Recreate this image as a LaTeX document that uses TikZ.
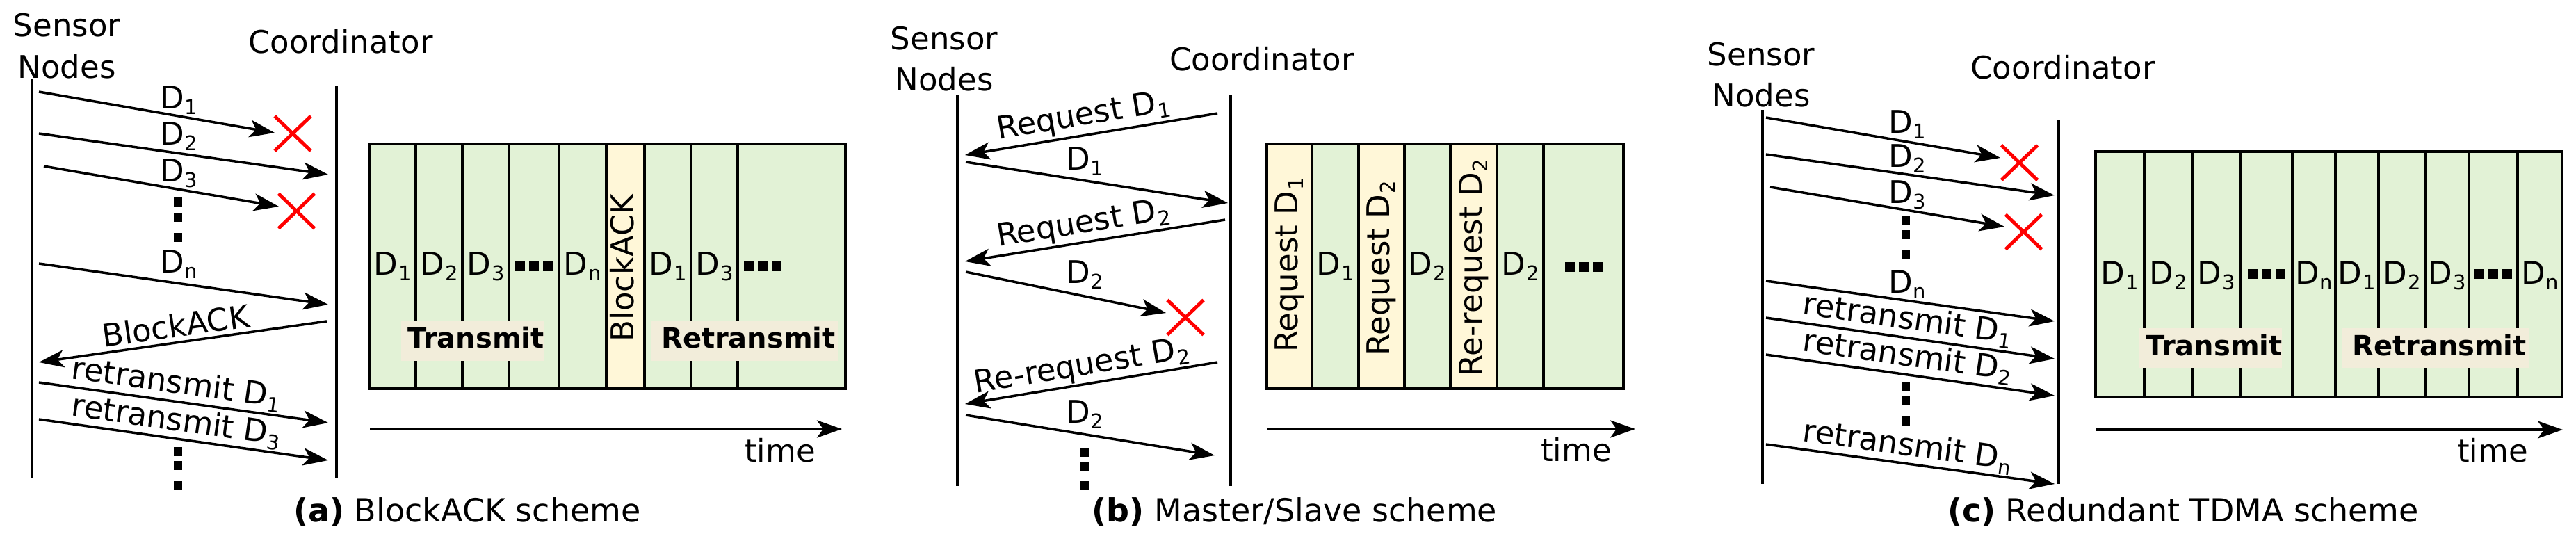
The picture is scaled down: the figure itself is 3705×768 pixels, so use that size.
\documentclass[tikz,border=0pt]{standalone}
\usepackage{fontspec}
\setmainfont{DejaVu Sans}
\usetikzlibrary{arrows.meta}
\definecolor{slotgreen}{RGB}{226,242,214}
\definecolor{slotyellow}{RGB}{255,247,216}
\definecolor{tagbg}{RGB}{242,237,218}
\newcommand{\bigf}{\fontsize{45}{54}\selectfont}
\newcommand{\capf}{\fontsize{46}{55}\selectfont}
\newcommand{\tagf}{\fontsize{40}{48}\selectfont\bfseries}
\newcommand{\sbs}[1]{\kern1pt\raisebox{-8pt}{\fontsize{29}{29}\selectfont #1}}
\newcommand{\vsq}[2]{\fill (#1-6,#2-6.5) rectangle (#1+6,#2+6.5);}
\newcommand{\hdots}[2]{\fill (#1-27,#2-7) rectangle (#1-13,#2+7); \fill (#1-7,#2-7) rectangle (#1+7,#2+7); \fill (#1+13,#2-7) rectangle (#1+27,#2+7);}
\newcommand{\redx}[2]{\draw[crossline] (#1-26,#2-25) -- (#1+26,#2+25); \draw[crossline] (#1-26,#2+25) -- (#1+26,#2-25);}
\begin{document}
\begin{tikzpicture}[x=1pt,y=-1pt,
  msg/.style={line width=3.5pt, -{Stealth[length=36pt,width=25pt,inset=9pt]}},
  life/.style={line width=3.5pt},
  txt/.style={inner sep=0pt, font=\bigf},
  dlbl/.style={inner sep=0pt, font=\bigf, anchor=base west},
  rlbl/.style={inner sep=0pt, font=\bigf, anchor=base},
  slotline/.style={draw=black, line width=3.5pt},
  boxline/.style={draw=black, line width=4pt},
  crossline/.style={draw=red, line width=5pt},
  tagtxt/.style={inner sep=0pt, font=\tagf, anchor=base west},
  captxt/.style={inner sep=0pt, font=\capf, anchor=base}]
\useasboundingbox (0,0) rectangle (3705,768);

%================ Panel (a) =================
\node[txt,anchor=base] (aS1) at (96,53) {Sensor};
\node[txt,anchor=base] (aS2) at (96,112) {Nodes};
\node[txt,anchor=base] (aCo) at (490,77) {Coordinator};
\coordinate (aL0) at (45.6,114); \coordinate (aL1) at (45.6,688);
\coordinate (aC0) at (484,124); \coordinate (aC1) at (484,688);
\draw[life] (aL0) -- (aL1);
\draw[life] (aC0) -- (aC1);

\coordinate (a1s) at (56,132);  \coordinate (a1e) at (395,191);
\coordinate (a2s) at (56,192);  \coordinate (a2e) at (472,251);
\coordinate (a3s) at (63,239);  \coordinate (a3e) at (401,297);
\coordinate (a4s) at (56,379);  \coordinate (a4e) at (472,438);
\coordinate (a5s) at (470,462); \coordinate (a5e) at (56,521);
\coordinate (a6s) at (56,550);  \coordinate (a6e) at (472,608);
\coordinate (a7s) at (56,603);  \coordinate (a7e) at (472,662);
\draw[msg] (a1s) -- (a1e);
\draw[msg] (a2s) -- (a2e);
\draw[msg] (a3s) -- (a3e);
\draw[msg] (a4s) -- (a4e);
\draw[msg] (a5s) -- (a5e);
\draw[msg] (a6s) -- (a6e);
\draw[msg] (a7s) -- (a7e);
\node[dlbl] (aD1) at (230,156) {D\sbs{1}};
\node[dlbl] (aD2) at (230,208) {D\sbs{2}};
\node[dlbl] (aD3) at (230,261) {D\sbs{3}};
\node[dlbl] (aDn) at (230,392) {D\sbs{n}};
\node[rlbl,rotate=8.1] (aBA) at (255,485) {BlockACK};
\node[rlbl,rotate=-7.9] (aR1) at (252,565) {retransmit D\sbs{1}};
\node[rlbl,rotate=-8.0] (aR3) at (252,619) {retransmit D\sbs{3}};
\redx{421}{192}
\redx{426.5}{303.5}
\vsq{256}{290.5}\vsq{256}{312.5}\vsq{256}{341.5}
\vsq{256}{649.5}\vsq{256}{669}\vsq{256}{698.5}

% time slots (a)
\foreach \xa/\xb/\c in {532/598/slotgreen,598/665/slotgreen,665/732/slotgreen,732/804/slotgreen,804/872/slotgreen,872/927/slotyellow,927/994/slotgreen,994/1061/slotgreen,1061/1216/slotgreen}
  \filldraw[slotline,fill=\c] (\xa,207) rectangle (\xb,559);
\draw[boxline] (532,207) rectangle (1216,559);
\fill[tagbg] (577,461) rectangle (782,519);
\fill[tagbg] (936,461) rectangle (1205,519);
\node[tagtxt] (aTr) at (586,500) {Transmit};
\node[tagtxt] (aRe) at (951,500) {Retransmit};
\node[rlbl] (ab1) at (565,395) {D\sbs{1}};
\node[rlbl] (ab2) at (631.5,395) {D\sbs{2}};
\node[rlbl] (ab3) at (698.5,395) {D\sbs{3}};
\hdots{768}{383}
\node[rlbl] (abn) at (838,395) {D\sbs{n}};
\node[inner sep=0pt,font=\bigf,rotate=90,anchor=base] (abA) at (911,385) {BlockACK};
\node[rlbl] (ab4) at (960.5,395) {D\sbs{1}};
\node[rlbl] (ab5) at (1027.5,395) {D\sbs{3}};
\hdots{1097}{383}
\coordinate (at0) at (532,617); \coordinate (at1) at (1211,617);
\draw[msg] (at0) -- (at1);
\node[dlbl] (aTi) at (1071,664) {time};
\node[captxt] (capA) at (672,750) {\textbf{(a)} BlockACK scheme};

%================ Panel (b) =================
\node[txt,anchor=base] (bS1) at (1358,71) {Sensor};
\node[txt,anchor=base] (bS2) at (1358,130) {Nodes};
\node[txt,anchor=base] (bCo) at (1815,101) {Coordinator};
\coordinate (bL0) at (1377,136); \coordinate (bL1) at (1377,699);
\coordinate (bC0) at (1770,137); \coordinate (bC1) at (1770,699);
\draw[life] (bL0) -- (bL1);
\draw[life] (bC0) -- (bC1);

\coordinate (b1s) at (1751,163); \coordinate (b1e) at (1388,223);
\coordinate (b2s) at (1389,233); \coordinate (b2e) at (1766,292);
\coordinate (b3s) at (1762,316); \coordinate (b3e) at (1388,376);
\coordinate (b4s) at (1389,391); \coordinate (b4e) at (1677,450);
\coordinate (b5s) at (1751,521); \coordinate (b5e) at (1388,581);
\coordinate (b6s) at (1389,597); \coordinate (b6e) at (1747,655);
\draw[msg] (b1s) -- (b1e);
\draw[msg] (b2s) -- (b2e);
\draw[msg] (b3s) -- (b3e);
\draw[msg] (b4s) -- (b4e);
\draw[msg] (b5s) -- (b5e);
\draw[msg] (b6s) -- (b6e);
\node[rlbl,rotate=9.4] (bQ1) at (1560,180) {Request D\sbs{1}};
\node[dlbl] (bD1) at (1533,244) {D\sbs{1}};
\node[rlbl,rotate=9.1] (bQ2) at (1560,335) {Request D\sbs{2}};
\node[dlbl] (bD2) at (1533,407) {D\sbs{2}};
\node[rlbl,rotate=9.4] (bQ3) at (1558,540) {Re-request D\sbs{2}};
\node[dlbl] (bD3) at (1533,608) {D\sbs{2}};
\redx{1705}{456.5}
\vsq{1560}{650}\vsq{1560}{670}\vsq{1560}{698}

\foreach \xa/\xb/\c in {1822/1887/slotyellow,1887/1954/slotgreen,1954/2020/slotyellow,2020/2086/slotgreen,2086/2153/slotyellow,2153/2220/slotgreen,2220/2335/slotgreen}
  \filldraw[slotline,fill=\c] (\xa,207) rectangle (\xb,559);
\draw[boxline] (1822,207) rectangle (2335,559);
\node[inner sep=0pt,font=\bigf,rotate=90] (bb1) at (1854.5,381) {Request D\sbs{1}};
\node[rlbl] (bb2) at (1920.5,395) {D\sbs{1}};
\node[inner sep=0pt,font=\bigf,rotate=90] (bb3) at (1987,386) {Request D\sbs{2}};
\node[rlbl] (bb4) at (2053,395) {D\sbs{2}};
\node[inner sep=0pt,font=\bigf,rotate=90] (bb5) at (2119.5,385) {Re-request D\sbs{2}};
\node[rlbl] (bb6) at (2186.5,395) {D\sbs{2}};
\hdots{2277.5}{384}
\coordinate (bt0) at (1822,617); \coordinate (bt1) at (2352,617);
\draw[msg] (bt0) -- (bt1);
\node[dlbl] (bTi) at (2216,663) {time};
\node[captxt] (capB) at (1862,750) {\textbf{(b)} Master/Slave scheme};

%================ Panel (c) =================
\node[txt,anchor=base] (cS1) at (2533,95) {Sensor};
\node[txt,anchor=base] (cS2) at (2533,153) {Nodes};
\node[txt,anchor=base] (cCo) at (2967,113) {Coordinator};
\coordinate (cL0) at (2535,158); \coordinate (cL1) at (2535,696);
\coordinate (cC0) at (2961,173); \coordinate (cC1) at (2961,696);
\draw[life] (cL0) -- (cL1);
\draw[life] (cC0) -- (cC1);

\coordinate (c1s) at (2540,169); \coordinate (c1e) at (2877,227);
\coordinate (c2s) at (2540,222); \coordinate (c2e) at (2955,281);
\coordinate (c3s) at (2546,269); \coordinate (c3e) at (2883,326);
\coordinate (c4s) at (2540,404); \coordinate (c4e) at (2955,462);
\coordinate (c5s) at (2540,457); \coordinate (c5e) at (2955,516);
\coordinate (c6s) at (2540,510); \coordinate (c6e) at (2955,569);
\coordinate (c7s) at (2540,639); \coordinate (c7e) at (2955,696);
\draw[msg] (c1s) -- (c1e);
\draw[msg] (c2s) -- (c2e);
\draw[msg] (c3s) -- (c3e);
\draw[msg] (c4s) -- (c4e);
\draw[msg] (c5s) -- (c5e);
\draw[msg] (c6s) -- (c6e);
\draw[msg] (c7s) -- (c7e);
\node[dlbl] (cD1) at (2716,191) {D\sbs{1}};
\node[dlbl] (cD2) at (2716,240) {D\sbs{2}};
\node[dlbl] (cD3) at (2716,292) {D\sbs{3}};
\node[dlbl] (cDn) at (2716,421) {D\sbs{n}};
\node[rlbl,rotate=-8.0] (cR1) at (2742,473) {retransmit D\sbs{1}};
\node[rlbl,rotate=-8.0] (cR2) at (2742,526) {retransmit D\sbs{2}};
\node[rlbl,rotate=-7.8] (cRn) at (2742,655) {retransmit D\sbs{n}};
\redx{2904.5}{234}
\redx{2910.5}{333.5}
\vsq{2741}{316}\vsq{2741}{337}\vsq{2741}{365}
\vsq{2741}{555}\vsq{2741}{576}\vsq{2741}{605.5}

\foreach \xa/\xb in {3014/3084,3084/3153,3153/3222,3222/3297,3297/3359,3359/3421,3421/3489,3489/3551,3551/3621,3621/3685}
  \filldraw[slotline,fill=slotgreen] (\xa,218) rectangle (\xb,571);
\draw[boxline] (3014,218) rectangle (3685,571);
\fill[tagbg] (3076,472) rectangle (3282,529);
\fill[tagbg] (3368,472) rectangle (3638,529);
\node[tagtxt] (cTr) at (3086,511) {Transmit};
\node[tagtxt] (cRe) at (3383,511) {Retransmit};
\node[rlbl] (cb1) at (3049,408) {D\sbs{1}};
\node[rlbl] (cb2) at (3118.5,408) {D\sbs{2}};
\node[rlbl] (cb3) at (3187.5,408) {D\sbs{3}};
\hdots{3259.5}{393.5}
\node[rlbl] (cb4) at (3328,408) {D\sbs{n}};
\node[rlbl] (cb5) at (3390,408) {D\sbs{1}};
\node[rlbl] (cb6) at (3455,408) {D\sbs{2}};
\node[rlbl] (cb7) at (3520,408) {D\sbs{3}};
\hdots{3586}{393.5}
\node[rlbl] (cb8) at (3653,408) {D\sbs{n}};
\coordinate (ct0) at (3015,618); \coordinate (ct1) at (3686,618);
\draw[msg] (ct0) -- (ct1);
\node[dlbl] (cTi) at (3534,664) {time};
\node[captxt] (capC) at (3140,750) {\textbf{(c)} Redundant TDMA scheme};
\end{tikzpicture}
\end{document}
